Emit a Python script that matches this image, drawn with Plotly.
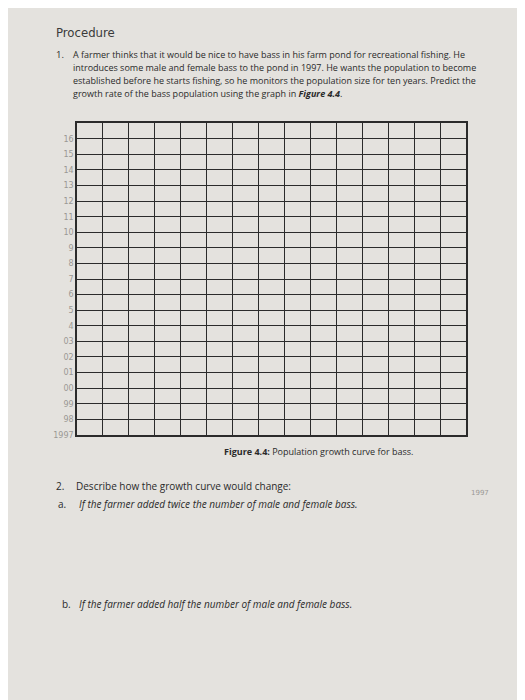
import plotly.graph_objects as go

# handwritten year labels along the left side of the grid, bottom to top
year_pos = list(range(20))
year_labels = ["1997", "98", "99", "00", "01", "02", "03", "4", "5", "6", "7",
               "8", "9", "10", "11", "12", "13", "14", "15", "16"]
n_cols = 15
n_rows = 20

ink = "#2b2b2b"
pencil = "#9a9894"
paper = "#e4e2de"

fig = go.Figure()
fig.add_trace(go.Scatter(x=[], y=[], showlegend=False))

fig.update_layout(
    width=525, height=700,
    margin=dict(l=0, r=0, t=0, b=0),
    paper_bgcolor=paper, plot_bgcolor=paper,
    xaxis=dict(domain=[69/525, 458/525], range=[0, n_cols], dtick=1,
               showgrid=True, gridcolor=ink, gridwidth=1.3,
               showline=True, linecolor=ink, linewidth=1.5, mirror=True,
               showticklabels=False, zeroline=False, fixedrange=True),
    yaxis=dict(domain=[1 - 430/700, 1 - 116/700], range=[0, n_rows], dtick=1,
               showgrid=True, gridcolor=ink, gridwidth=1.3,
               showline=True, linecolor=ink, linewidth=1.5, mirror=True,
               tickvals=year_pos, ticktext=year_labels, ticks="",
               tickfont=dict(family="DejaVu Sans", size=8, color=pencil),
               zeroline=False, fixedrange=True),
)

def note(x, y, text, size=10.5, color="#2a2a2a", family="Open Sans", xanchor="left"):
    fig.add_annotation(x=x/525, y=1 - y/700, xref="paper", yref="paper",
                       text=text, showarrow=False, xanchor=xanchor, yanchor="middle",
                       align="left", font=dict(family=family, size=size, color=color))

note(46, 25, "Procedure", size=13, color="#3a3a3a", family="DejaVu Sans Condensed")
note(46, 47, "1.", size=9.5)
note(63, 47, "A farmer thinks that it would be nice to have bass in his farm pond for recreational fishing. He", size=9)
note(63, 60, "introduces some male and female bass to the pond in 1997. He wants the population to become", size=9)
note(63, 73, "established before he starts fishing, so he monitors the population size for ten years. Predict the", size=9)
note(63, 86, "growth rate of the bass population using the graph in <b><i>Figure 4.4</i></b>.", size=9)

note(310, 447, "<b>Figure 4.4:</b> Population growth curve for bass.", size=9, xanchor="center")

note(46, 481, "2.", size=10)
note(66, 481, "Describe how the growth curve would change:", size=10)
note(461, 488, "1997", size=7, color=pencil, family="DejaVu Sans")
note(48, 500, "a.", size=10)
note(69, 500, "<i>If the farmer added twice the number of male and female bass.</i>", size=10)
note(52, 600, "b.", size=10)
note(69, 600, "<i>If the farmer added half the number of male and female bass.</i>", size=10)

fig.write_html("out.html")
